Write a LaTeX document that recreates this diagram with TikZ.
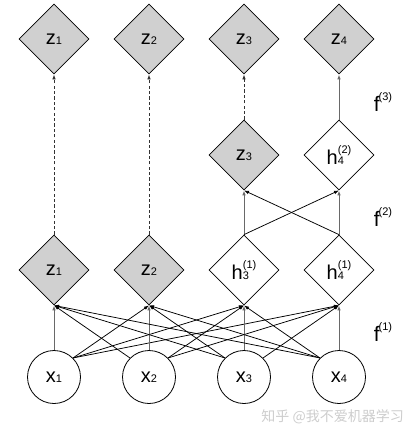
\documentclass[tikz,border=0pt]{standalone}
\usepackage{fontspec}
\setmainfont{Liberation Sans}
\newfontfamily\cjk{Noto Sans CJK SC}
\usetikzlibrary{shapes.geometric,arrows.meta}
\definecolor{fillgray}{RGB}{208,208,208}
\definecolor{lgray}{RGB}{105,105,105}
\definecolor{wmgray}{RGB}{205,205,205}
\newcommand\sbt[1]{{\fontsize{11}{11}\selectfont #1}}
\newcommand\zz[1]{z\sbt{#1}}
\newcommand\xx[1]{x\sbt{#1}}
\newcommand\hh[2]{h\rlap{\sbt{#1}}\raisebox{11pt}{\sbt{(#2)}}}
\newcommand\ff[1]{f\kern-1pt\raisebox{11pt}{\sbt{(#1)}}}
\begin{document}
\begin{tikzpicture}[x=1pt,y=-1pt,
  dia/.style={diamond, draw, aspect=1, minimum size=70pt, inner sep=0pt,
    font=\fontsize{20}{20}\selectfont, line width=0.8pt},
  gdia/.style={dia, fill=fillgray},
  circ/.style={circle, draw, minimum size=53pt, inner sep=0pt,
    font=\fontsize{20}{20}\selectfont, line width=0.8pt},
  tip/.style={-{Latex[length=5pt,width=3.6pt]}},
  vline/.style={tip, draw=lgray, line width=1pt},
  dline/.style={tip, draw=black, line width=0.75pt},
  dashline/.style={tip, draw=black!80, line width=0.8pt, dash pattern=on 3.2pt off 2.2pt},
  flabel/.style={font=\fontsize{21}{21}\selectfont}]
\useasboundingbox (0,0) rectangle (415,436);
% top row
\node[gdia] (c1) at (54,39) {\zz1};
\node[gdia] (c2) at (149,39) {\zz2};
\node[gdia] (c3) at (244,39) {\zz3};
\node[gdia] (c4) at (339,39) {\zz4};
% middle row
\node[gdia] (b3) at (244,155) {\zz3};
\node[dia] (b4) at (339,155) {\hh4{2}};
% lower row
\node[gdia] (a1) at (54,270) {\zz1};
\node[gdia] (a2) at (149,270) {\zz2};
\node[dia] (a3) at (244,270) {\hh3{1}};
\node[dia] (a4) at (339,270) {\hh4{1}};
% inputs
\node[circ] (x1) at (54,377) {\xx1};
\node[circ] (x2) at (149,377) {\xx2};
\node[circ] (x3) at (244,377) {\xx3};
\node[circ] (x4) at (339,377) {\xx4};
% layer 1 connections
\foreach \i in {1,...,4}{\foreach \j in {1,...,4}{%
  \ifnum\i=\j \draw[vline] (x\i.north) -- (a\j.south);%
  \else\ifnum\i<\j \draw[dline] (x\i.45) -- (a\j.south);%
  \else \draw[dline] (x\i.135) -- (a\j.south);\fi\fi}}
% layer 2
\draw[vline] (a3.north) -- (b3.south);
\draw[vline] (a4.north) -- (b4.south);
\draw[dline] (a3.north) -- (b4.south);
\draw[dline] (a4.north) -- (b3.south);
% layer 3
\draw[dashline] (a1.north) -- (c1.south);
\draw[dashline] (a2.north) -- (c2.south);
\draw[dashline] (b3.north) -- (c3.south);
\draw[vline] (b4.north) -- (c4.south);
% labels
\node[flabel] (f3) at (383,102) {\ff3};
\node[flabel] (f2) at (383,217) {\ff2};
\node[flabel] (f1) at (383,332) {\ff1};
\node[anchor=east, text=wmgray, font=\cjk\fontsize{14}{14}\selectfont, inner sep=0pt] (wm) at (404,417) {知乎 @我不爱机器学习};
\end{tikzpicture}
\end{document}
